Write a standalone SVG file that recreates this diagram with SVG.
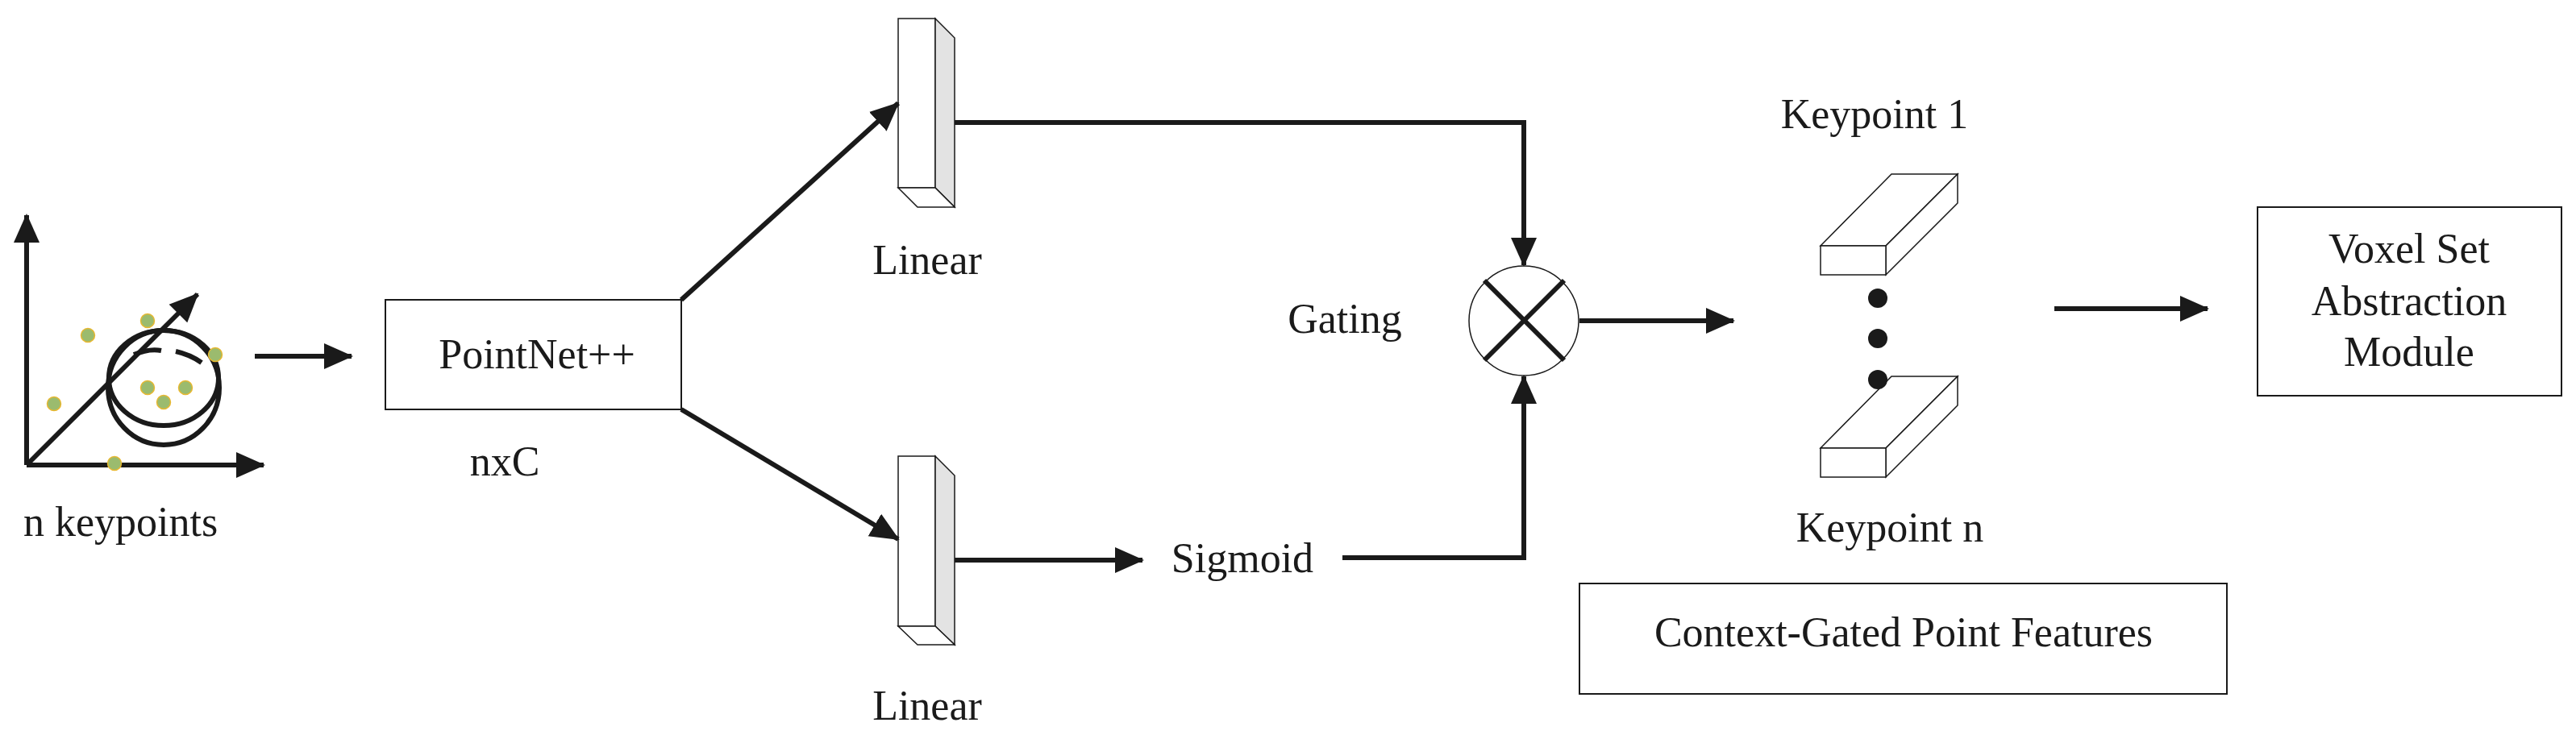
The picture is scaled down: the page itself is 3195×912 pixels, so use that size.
<svg xmlns="http://www.w3.org/2000/svg" width="3195" height="912" viewBox="0 0 3195 912">
<style>
.t{font-family:"Liberation Serif","Times New Roman",serif;font-size:52px;fill:#1a1a1a}
.c{text-anchor:middle}
.ln{stroke:#1a1a1a;stroke-width:6;fill:none}
.box{fill:#fff;stroke:#1a1a1a;stroke-width:2}
.thin{fill:#fff;stroke:#1a1a1a;stroke-width:1.5}
.dot{fill:#9bbb6e;stroke:#e8b830;stroke-width:1.5}
</style>
<defs>
<marker id="ah" markerUnits="userSpaceOnUse" markerWidth="36" markerHeight="36" viewBox="0 0 36 36" refX="34" refY="18" orient="auto">
<path d="M0,2 L36,18 L0,34 Z" fill="#1a1a1a"/>
</marker>
</defs>
<rect width="3195" height="912" fill="#fff"/>
<g id="keypoints">
<line class="ln" x1="33" y1="577" x2="33" y2="267" marker-end="url(#ah)"/>
<line class="ln" x1="33" y1="577" x2="327" y2="577" marker-end="url(#ah)"/>
<line class="ln" x1="33" y1="577" x2="245" y2="365" marker-end="url(#ah)"/>
<ellipse class="ln" cx="203" cy="481" rx="69" ry="71"/>
<ellipse class="ln" cx="203" cy="469" rx="68" ry="59"/>
<path class="ln" d="M166,440 Q185,432 200,435 M218,436 Q236,440 250,450" />
<circle class="dot" cx="109" cy="416" r="8.5"/>
<circle class="dot" cx="183" cy="398" r="8.5"/>
<circle class="dot" cx="267" cy="440" r="8.5"/>
<circle class="dot" cx="67" cy="501" r="8.5"/>
<circle class="dot" cx="183" cy="481" r="8.5"/>
<circle class="dot" cx="230" cy="481" r="8.5"/>
<circle class="dot" cx="203" cy="499" r="8.5"/>
<circle class="dot" cx="142" cy="575" r="8.5"/>
<text class="t" x="29" y="665">n keypoints</text>
</g>
<g id="pointnet">
<rect class="box" x="478" y="372" width="367" height="136"/>
<text class="t c" x="666" y="457">PointNet++</text>
<text class="t c" x="626" y="590">nxC</text>
</g>
<g id="linear1">
<rect class="thin" x="1114" y="23" width="46" height="210"/>
<path class="thin" d="M1160,23 L1184,47 L1184,257 L1160,233 Z" fill="#e3e3e3" style="fill:#e3e3e3"/>
<path class="thin" d="M1114,233 L1160,233 L1184,257 L1138,257 Z"/>
<text class="t c" x="1150" y="340">Linear</text>
</g>
<g id="linear2">
<rect class="thin" x="1114" y="566" width="46" height="211"/>
<path class="thin" d="M1160,566 L1184,590 L1184,800 L1160,777 Z" style="fill:#e3e3e3"/>
<path class="thin" d="M1114,777 L1160,777 L1184,800 L1138,800 Z"/>
<text class="t c" x="1150" y="893">Linear</text>
</g>
<g id="sigmoid"><text class="t c" x="1541" y="710">Sigmoid</text></g>
<g id="gating">
<text class="t c" x="1668" y="413">Gating</text>
<circle class="thin" cx="1890" cy="398" r="68"/>
<line class="ln" x1="1841" y1="348" x2="1940" y2="447"/>
<line class="ln" x1="1940" y1="348" x2="1841" y2="447"/>
</g>
<g id="features">
<text class="t c" x="2325" y="159">Keypoint 1</text>
<path class="thin" d="M2258,305 L2346,216 L2428,216 L2339,305 Z"/>
<path class="thin" d="M2339,305 L2428,216 L2428,252 L2339,341 Z"/>
<rect class="thin" x="2258" y="305" width="81" height="36"/>
<circle cx="2329" cy="370" r="12" fill="#1a1a1a"/>
<circle cx="2329" cy="420" r="12" fill="#1a1a1a"/>
<path class="thin" d="M2258,556 L2346,467 L2428,467 L2339,556 Z"/>
<path class="thin" d="M2339,556 L2428,467 L2428,503 L2339,592 Z"/>
<rect class="thin" x="2258" y="556" width="81" height="36"/>
<circle cx="2329" cy="471" r="12" fill="#1a1a1a"/>
<text class="t c" x="2344" y="672">Keypoint n</text>
</g>
<g id="context">
<rect class="box" x="1959" y="724" width="803" height="137"/>
<text class="t c" x="2361" y="802">Context-Gated Point Features</text>
</g>
<g id="voxel">
<rect class="box" x="2800" y="257" width="377" height="234"/>
<text class="t c" x="2988" y="326">Voxel Set</text>
<text class="t c" x="2988" y="391">Abstraction</text>
<text class="t c" x="2988" y="454">Module</text>
</g>
<g id="connectors">
<line class="ln" x1="316" y1="442" x2="436" y2="442" marker-end="url(#ah)"/>
<line class="ln" x1="845" y1="372" x2="1114" y2="128" marker-end="url(#ah)"/>
<line class="ln" x1="845" y1="508" x2="1114" y2="669" marker-end="url(#ah)"/>
<polyline class="ln" points="1184,152 1890,152 1890,329" marker-end="url(#ah)"/>
<line class="ln" x1="1184" y1="695" x2="1417" y2="695" marker-end="url(#ah)"/>
<polyline class="ln" points="1665,692 1890,692 1890,467" marker-end="url(#ah)"/>
<line class="ln" x1="1959" y1="398" x2="2150" y2="398" marker-end="url(#ah)"/>
<line class="ln" x1="2548" y1="383" x2="2738" y2="383" marker-end="url(#ah)"/>
</g>
</svg>
